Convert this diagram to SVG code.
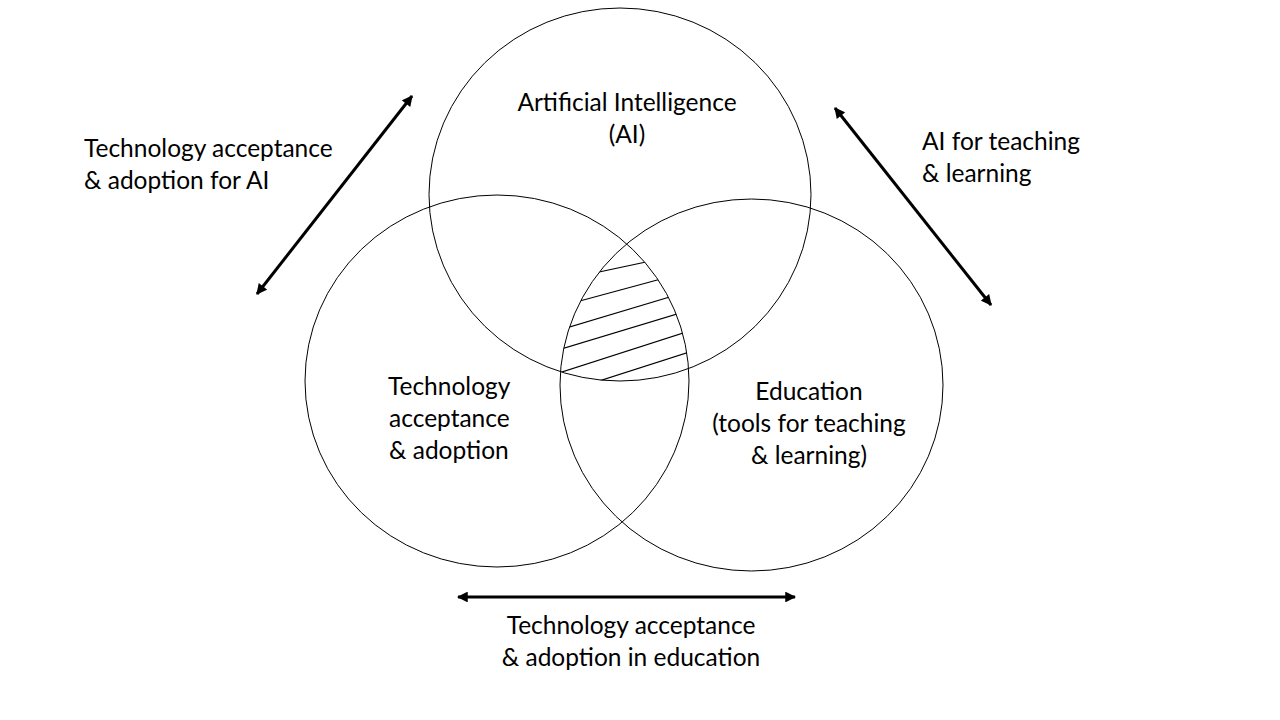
<svg xmlns="http://www.w3.org/2000/svg" width="1280" height="720" viewBox="0 0 1280 720">
<style>
.c{fill:none;stroke:#000;stroke-width:1}
.h{stroke:#000;stroke-width:1.2}
.a{stroke:#000;stroke-width:3;fill:none;marker-start:url(#ah);marker-end:url(#ah)}
text{font-family:Lato,"Liberation Sans",sans-serif;font-size:24.5px;fill:#000}
.m{text-anchor:middle}
</style>
<defs>
<marker id="ah" viewBox="0 0 10 10" refX="9" refY="5" markerWidth="3.8" markerHeight="3.6" orient="auto-start-reverse" markerUnits="strokeWidth">
<path d="M0,0 L10,5 L0,10 z" fill="#000"/>
</marker>
<clipPath id="cT"><ellipse cx="620" cy="194.5" rx="191" ry="186.5"/></clipPath>
<clipPath id="cL"><ellipse cx="497" cy="381" rx="192" ry="186"/></clipPath>
<clipPath id="cR"><ellipse cx="751.5" cy="385" rx="191.5" ry="186"/></clipPath>
</defs>
<rect width="1280" height="720" fill="#fff"/>
<g id="hatch" clip-path="url(#cT)"><g clip-path="url(#cL)"><g clip-path="url(#cR)">
<line class="h" x1="585" y1="275" x2="660" y2="259"/>
<line class="h" x1="565" y1="305" x2="672" y2="276"/>
<line class="h" x1="555" y1="331.5" x2="688" y2="291.5"/>
<line class="h" x1="548" y1="353" x2="695" y2="308.5"/>
<line class="h" x1="548" y1="376.5" x2="700" y2="327.5"/>
<line class="h" x1="585" y1="385.5" x2="700" y2="348.5"/>
</g></g></g>
<g id="ai"><ellipse class="c" cx="620" cy="194.5" rx="191" ry="186.5"/>
<text class="m" x="627" y="111">Artificial Intelligence</text>
<text class="m" x="627" y="143">(AI)</text></g>
<g id="tech"><ellipse class="c" cx="497" cy="381" rx="192" ry="186"/>
<text x="388" y="395">Technology</text>
<text x="389" y="427">acceptance</text>
<text x="389" y="459">&amp; adoption</text></g>
<g id="edu"><ellipse class="c" cx="751.5" cy="385" rx="191.5" ry="186"/>
<text class="m" x="809" y="400">Education</text>
<text class="m" x="809" y="432">(tools for teaching</text>
<text class="m" x="809" y="464">&amp; learning)</text></g>
<g id="connectors">
<line class="a" x1="257" y1="294" x2="412" y2="96"/>
<line class="a" x1="835" y1="108" x2="991" y2="305"/>
<line class="a" x1="458" y1="597" x2="795" y2="597"/>
</g>
<g id="labels">
<text x="84" y="157">Technology acceptance</text>
<text x="84" y="189">&amp; adoption for AI</text>
<text x="922" y="150">AI for teaching</text>
<text x="922" y="182">&amp; learning</text>
<text class="m" x="631" y="634">Technology acceptance</text>
<text class="m" x="631" y="666">&amp; adoption in education</text>
</g>
</svg>
